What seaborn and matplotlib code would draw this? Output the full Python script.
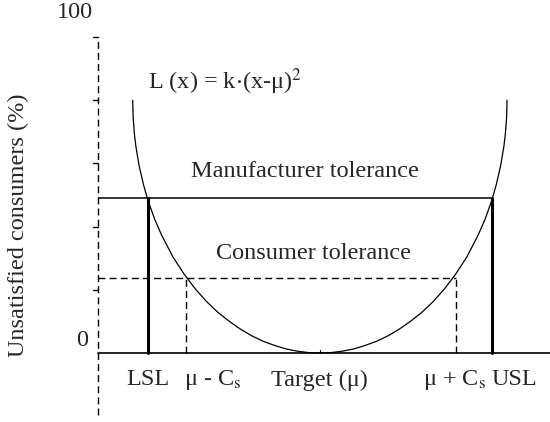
import seaborn as sns
from matplotlib import pyplot as plt
import numpy as np

sns.set_style("white")
plt.rcParams['font.family'] = ['Liberation Serif', 'DejaVu Serif']
plt.rcParams['mathtext.fontset'] = 'stix'

# values (x as offset from the target, y in %)
curve_dx = [41.4, 41.3, 41.0, 40.7, 40.0, 39.0, 38.0, 36.5, 35.0, 32.5, 30.0, 27.5, 25.0,
            22.5, 20.0, 17.5, 15.0, 12.5, 10.0, 7.5, 5.0, 2.5, 0.0]
curve_h = [80.0, 74.5, 69.0, 65.4, 59.4, 53.2, 48.2, 42.2, 37.3, 30.4, 24.9, 20.2, 16.2,
           12.8, 10.0, 7.5, 5.4, 3.7, 2.4, 1.3, 0.6, 0.15, 0.0]
mu = 49.1
lsl, usl = 11.1, 87.2
cs_lo, cs_hi = 19.5, 79.2
manuf_level = 49.0
consumer_level = 23.7
ytick_vals = [20, 40, 60, 80, 100]

curve_x = [mu - d for d in curve_dx] + [mu + d for d in curve_dx[::-1][1:]]
curve_y = curve_h + curve_h[::-1][1:]

fig = plt.figure(figsize=(5.5, 4.22), dpi=100)
ax = fig.add_axes([0.178, 0.0166, 0.822, 0.8957])
ax.set_xlim(0, 100)
ax.set_ylim(-19.6, 100)
for s in ax.spines.values():
    s.set_visible(False)

# axes
ax.plot([0, 0], [-19.6, 100], color='black', lw=1, ls=(0, (5, 3)), clip_on=False)
ax.plot([0, 100], [0, 0], color='black', lw=1.2, clip_on=False)
for v in ytick_vals:
    ax.plot([-1.1, 0], [v, v], color='black', lw=1, clip_on=False)
ax.set_xticks([])
ax.set_yticks([])

sns.lineplot(x=curve_x, y=curve_y, sort=False, color='black', lw=0.9, ax=ax)

# tolerances
ax.plot([0, usl], [manuf_level, manuf_level], color='black', lw=1.1)
ax.plot([lsl, lsl], [0, manuf_level], color='black', lw=2.2)
ax.plot([usl, usl], [0, manuf_level], color='black', lw=2.2)
ax.plot([0, cs_hi], [consumer_level, consumer_level], color='black', lw=1, ls=(0, (5, 3)))
ax.plot([cs_lo, cs_lo], [0, consumer_level], color='black', lw=1, ls=(0, (5, 3)))
ax.plot([cs_hi, cs_hi], [0, consumer_level], color='black', lw=1, ls=(0, (5, 3)))
ax.plot([mu, mu], [0, 1.0], color='black', lw=0.8)

fs = 17.5
ax.text(11, 85.8, r'L (x) = k$\cdot$(x-μ)$^{2}$', fontsize=fs, va='center', ha='left')
ax.text(45.8, 57.3, 'Manufacturer tolerance', fontsize=fs, ha='center', va='center')
ax.text(47.6, 31.6, 'Consumer tolerance', fontsize=fs, ha='center', va='center')

ylab = -8.5
ax.text(lsl, ylab, 'LSL', fontsize=fs, ha='center', va='center')
ax.text(25.5, ylab, r'μ - C$_{\rm s}$', fontsize=fs, ha='center', va='center')
ax.text(mu, ylab, 'Target (μ)', fontsize=fs, ha='center', va='center')
ax.text(78.9, ylab, r'μ + C$_{\rm s}$', fontsize=fs, ha='center', va='center')
ax.text(92.2, ylab, 'USL', fontsize=fs, ha='center', va='center')

ax.text(-5.0, 107.6, '100', fontsize=fs, ha='center', va='center', clip_on=False)
ax.text(-3.5, 4.0, '0', fontsize=fs, ha='center', va='center')
ax.text(-17.5, 40.5, 'Unsatisfied consumers (%)', fontsize=fs, rotation=90,
        ha='center', va='center', clip_on=False)

fig.savefig('out.png', dpi=100)
